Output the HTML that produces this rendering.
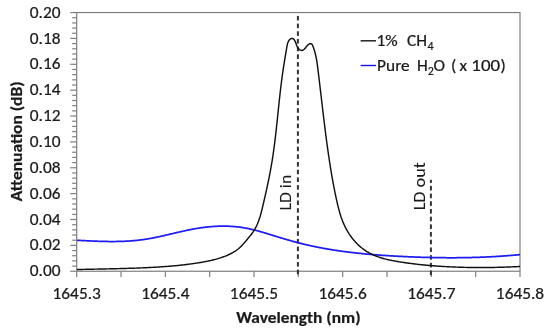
<!DOCTYPE html>
<html><head><meta charset="utf-8"><style>
html,body{margin:0;padding:0;background:#fff;}
svg{display:block;}
text{font-family:Carlito,"Liberation Sans",sans-serif;font-size:16.9px;fill:#1a1a1a;stroke:#1a1a1a;stroke-width:0.22px;}
</style></head><body>
<svg width="550" height="331" viewBox="0 0 550 331">
<rect width="550" height="331" fill="#fff"/>
<g stroke="#7f7f7f" stroke-width="1.2" fill="none">
<rect x="76.7" y="12.56" width="443.30" height="258.69"/>
<line x1="70.2" y1="271.25" x2="76.7" y2="271.25"/>
<line x1="72.2" y1="266.08" x2="76.7" y2="266.08"/>
<line x1="72.2" y1="260.90" x2="76.7" y2="260.90"/>
<line x1="72.2" y1="255.73" x2="76.7" y2="255.73"/>
<line x1="72.2" y1="250.55" x2="76.7" y2="250.55"/>
<line x1="70.2" y1="245.38" x2="76.7" y2="245.38"/>
<line x1="72.2" y1="240.21" x2="76.7" y2="240.21"/>
<line x1="72.2" y1="235.03" x2="76.7" y2="235.03"/>
<line x1="72.2" y1="229.86" x2="76.7" y2="229.86"/>
<line x1="72.2" y1="224.69" x2="76.7" y2="224.69"/>
<line x1="70.2" y1="219.51" x2="76.7" y2="219.51"/>
<line x1="72.2" y1="214.34" x2="76.7" y2="214.34"/>
<line x1="72.2" y1="209.16" x2="76.7" y2="209.16"/>
<line x1="72.2" y1="203.99" x2="76.7" y2="203.99"/>
<line x1="72.2" y1="198.82" x2="76.7" y2="198.82"/>
<line x1="70.2" y1="193.64" x2="76.7" y2="193.64"/>
<line x1="72.2" y1="188.47" x2="76.7" y2="188.47"/>
<line x1="72.2" y1="183.30" x2="76.7" y2="183.30"/>
<line x1="72.2" y1="178.12" x2="76.7" y2="178.12"/>
<line x1="72.2" y1="172.95" x2="76.7" y2="172.95"/>
<line x1="70.2" y1="167.77" x2="76.7" y2="167.77"/>
<line x1="72.2" y1="162.60" x2="76.7" y2="162.60"/>
<line x1="72.2" y1="157.43" x2="76.7" y2="157.43"/>
<line x1="72.2" y1="152.25" x2="76.7" y2="152.25"/>
<line x1="72.2" y1="147.08" x2="76.7" y2="147.08"/>
<line x1="70.2" y1="141.91" x2="76.7" y2="141.91"/>
<line x1="72.2" y1="136.73" x2="76.7" y2="136.73"/>
<line x1="72.2" y1="131.56" x2="76.7" y2="131.56"/>
<line x1="72.2" y1="126.38" x2="76.7" y2="126.38"/>
<line x1="72.2" y1="121.21" x2="76.7" y2="121.21"/>
<line x1="70.2" y1="116.04" x2="76.7" y2="116.04"/>
<line x1="72.2" y1="110.86" x2="76.7" y2="110.86"/>
<line x1="72.2" y1="105.69" x2="76.7" y2="105.69"/>
<line x1="72.2" y1="100.51" x2="76.7" y2="100.51"/>
<line x1="72.2" y1="95.34" x2="76.7" y2="95.34"/>
<line x1="70.2" y1="90.17" x2="76.7" y2="90.17"/>
<line x1="72.2" y1="84.99" x2="76.7" y2="84.99"/>
<line x1="72.2" y1="79.82" x2="76.7" y2="79.82"/>
<line x1="72.2" y1="74.65" x2="76.7" y2="74.65"/>
<line x1="72.2" y1="69.47" x2="76.7" y2="69.47"/>
<line x1="70.2" y1="64.30" x2="76.7" y2="64.30"/>
<line x1="72.2" y1="59.12" x2="76.7" y2="59.12"/>
<line x1="72.2" y1="53.95" x2="76.7" y2="53.95"/>
<line x1="72.2" y1="48.78" x2="76.7" y2="48.78"/>
<line x1="72.2" y1="43.60" x2="76.7" y2="43.60"/>
<line x1="70.2" y1="38.43" x2="76.7" y2="38.43"/>
<line x1="72.2" y1="33.26" x2="76.7" y2="33.26"/>
<line x1="72.2" y1="28.08" x2="76.7" y2="28.08"/>
<line x1="72.2" y1="22.91" x2="76.7" y2="22.91"/>
<line x1="72.2" y1="17.73" x2="76.7" y2="17.73"/>
<line x1="70.2" y1="12.56" x2="76.7" y2="12.56"/>
<line x1="76.70" y1="271.25" x2="76.70" y2="277"/>
<line x1="121.03" y1="271.25" x2="121.03" y2="277"/>
<line x1="165.36" y1="271.25" x2="165.36" y2="277"/>
<line x1="209.69" y1="271.25" x2="209.69" y2="277"/>
<line x1="254.02" y1="271.25" x2="254.02" y2="277"/>
<line x1="298.35" y1="271.25" x2="298.35" y2="277"/>
<line x1="342.68" y1="271.25" x2="342.68" y2="277"/>
<line x1="387.01" y1="271.25" x2="387.01" y2="277"/>
<line x1="431.34" y1="271.25" x2="431.34" y2="277"/>
<line x1="475.67" y1="271.25" x2="475.67" y2="277"/>
<line x1="520.00" y1="271.25" x2="520.00" y2="277"/>
</g>
<g fill="#333">
<rect x="296.90" y="15.90" width="2" height="4.60"/><rect x="296.90" y="23.59" width="2" height="4.60"/><rect x="296.90" y="31.28" width="2" height="4.60"/><rect x="296.90" y="38.97" width="2" height="4.60"/><rect x="296.90" y="46.66" width="2" height="4.60"/><rect x="296.90" y="54.35" width="2" height="4.60"/><rect x="296.90" y="62.04" width="2" height="4.60"/><rect x="296.90" y="69.73" width="2" height="4.60"/><rect x="296.90" y="77.42" width="2" height="4.60"/><rect x="296.90" y="85.11" width="2" height="4.60"/><rect x="296.90" y="92.80" width="2" height="4.60"/><rect x="296.90" y="100.49" width="2" height="4.60"/><rect x="296.90" y="108.18" width="2" height="4.60"/><rect x="296.90" y="115.87" width="2" height="4.60"/><rect x="296.90" y="123.56" width="2" height="4.60"/><rect x="296.90" y="131.25" width="2" height="4.60"/><rect x="296.90" y="138.94" width="2" height="4.60"/><rect x="296.90" y="146.63" width="2" height="4.60"/><rect x="296.90" y="154.32" width="2" height="4.60"/><rect x="296.90" y="162.01" width="2" height="4.60"/><rect x="296.90" y="169.70" width="2" height="4.60"/><rect x="296.90" y="177.39" width="2" height="4.60"/><rect x="296.90" y="185.08" width="2" height="4.60"/><rect x="296.90" y="192.77" width="2" height="4.60"/><rect x="296.90" y="200.46" width="2" height="4.60"/><rect x="296.90" y="208.15" width="2" height="4.60"/><rect x="296.90" y="215.84" width="2" height="4.60"/><rect x="296.90" y="223.53" width="2" height="4.60"/><rect x="296.90" y="231.22" width="2" height="4.60"/><rect x="296.90" y="238.91" width="2" height="4.60"/><rect x="296.90" y="246.60" width="2" height="4.60"/><rect x="296.90" y="254.29" width="2" height="4.60"/><rect x="296.90" y="261.98" width="2" height="4.60"/><rect x="296.90" y="269.67" width="2" height="4.60"/><rect x="429.90" y="179.8" width="2" height="3.1"/><rect x="429.90" y="185.90" width="2" height="4.60"/><rect x="429.90" y="193.59" width="2" height="4.60"/><rect x="429.90" y="201.28" width="2" height="4.60"/><rect x="429.90" y="208.97" width="2" height="4.60"/><rect x="429.90" y="216.66" width="2" height="4.60"/><rect x="429.90" y="224.35" width="2" height="4.60"/><rect x="429.90" y="232.04" width="2" height="4.60"/><rect x="429.90" y="239.73" width="2" height="4.60"/><rect x="429.90" y="247.42" width="2" height="4.60"/><rect x="429.90" y="255.11" width="2" height="4.60"/><rect x="429.90" y="262.80" width="2" height="4.60"/><rect x="429.90" y="270.49" width="2" height="4.60"/>
</g>
<path d="M76.98,240.29 L77.48,240.32 L77.97,240.34 L78.47,240.37 L78.97,240.39 L79.47,240.42 L79.97,240.45 L80.46,240.47 L80.96,240.50 L81.46,240.52 L81.96,240.55 L82.46,240.57 L82.96,240.60 L83.45,240.62 L83.95,240.65 L84.45,240.67 L84.95,240.70 L85.45,240.72 L85.95,240.75 L86.45,240.77 L86.95,240.79 L87.44,240.82 L87.94,240.84 L88.44,240.87 L88.94,240.89 L89.44,240.91 L89.94,240.93 L90.44,240.96 L90.94,240.98 L91.44,241.00 L91.93,241.02 L92.43,241.04 L92.93,241.06 L93.43,241.09 L93.93,241.11 L94.43,241.13 L94.93,241.15 L95.43,241.16 L95.93,241.18 L96.43,241.20 L96.93,241.22 L97.43,241.24 L97.93,241.25 L98.42,241.27 L98.92,241.29 L99.42,241.30 L99.92,241.32 L100.42,241.33 L100.92,241.35 L101.42,241.36 L101.92,241.38 L102.42,241.39 L102.92,241.40 L103.42,241.41 L103.92,241.42 L104.41,241.43 L104.91,241.44 L105.41,241.45 L105.91,241.46 L106.41,241.47 L106.91,241.48 L107.41,241.49 L107.91,241.49 L108.41,241.50 L108.90,241.50 L109.40,241.51 L109.90,241.51 L110.40,241.51 L110.90,241.52 L111.40,241.52 L111.90,241.52 L112.40,241.52 L112.89,241.52 L113.39,241.52 L113.89,241.51 L114.39,241.51 L114.89,241.51 L115.39,241.50 L115.88,241.50 L116.38,241.49 L116.88,241.48 L117.38,241.48 L117.88,241.47 L118.37,241.46 L118.87,241.45 L119.37,241.44 L119.87,241.42 L120.36,241.41 L120.86,241.40 L121.36,241.38 L121.86,241.36 L122.35,241.35 L122.85,241.33 L123.35,241.31 L123.84,241.29 L124.34,241.27 L124.84,241.25 L125.33,241.22 L125.83,241.20 L126.33,241.17 L126.82,241.15 L127.32,241.12 L127.82,241.09 L128.31,241.06 L128.81,241.03 L129.30,241.00 L129.80,240.97 L130.30,240.93 L130.79,240.90 L131.29,240.86 L131.78,240.82 L132.28,240.78 L132.77,240.74 L133.27,240.70 L133.76,240.66 L134.26,240.62 L134.75,240.57 L135.25,240.52 L135.74,240.48 L136.24,240.43 L136.73,240.38 L137.22,240.33 L137.72,240.27 L138.21,240.22 L138.70,240.16 L139.20,240.11 L139.69,240.05 L140.18,239.99 L140.68,239.93 L141.17,239.87 L141.66,239.80 L142.16,239.74 L142.65,239.67 L143.14,239.61 L143.63,239.54 L144.12,239.47 L144.62,239.39 L145.11,239.32 L145.60,239.24 L146.09,239.17 L146.58,239.09 L147.07,239.01 L147.56,238.93 L148.05,238.85 L148.55,238.76 L149.04,238.68 L149.53,238.59 L150.02,238.51 L150.51,238.42 L151.00,238.33 L151.49,238.24 L151.98,238.15 L152.47,238.05 L152.95,237.96 L153.44,237.86 L153.93,237.77 L154.42,237.67 L154.91,237.57 L155.40,237.47 L155.89,237.37 L156.38,237.27 L156.87,237.17 L157.36,237.07 L157.84,236.96 L158.33,236.86 L158.82,236.76 L159.31,236.65 L159.80,236.54 L160.29,236.44 L160.77,236.33 L161.26,236.22 L161.75,236.11 L162.24,236.00 L162.73,235.89 L163.21,235.78 L163.70,235.67 L164.19,235.56 L164.68,235.45 L165.16,235.33 L165.65,235.22 L166.14,235.11 L166.63,235.00 L167.11,234.88 L167.60,234.77 L168.09,234.65 L168.58,234.54 L169.06,234.42 L169.55,234.31 L170.04,234.19 L170.53,234.08 L171.01,233.96 L171.50,233.85 L171.99,233.73 L172.47,233.62 L172.96,233.50 L173.45,233.39 L173.94,233.27 L174.42,233.16 L174.91,233.04 L175.40,232.93 L175.89,232.81 L176.37,232.70 L176.86,232.58 L177.35,232.47 L177.84,232.36 L178.33,232.24 L178.81,232.13 L179.30,232.02 L179.79,231.91 L180.28,231.79 L180.76,231.68 L181.25,231.57 L181.74,231.46 L182.23,231.35 L182.72,231.24 L183.20,231.13 L183.69,231.02 L184.18,230.92 L184.67,230.81 L185.16,230.70 L185.65,230.60 L186.14,230.49 L186.63,230.39 L187.11,230.28 L187.60,230.18 L188.09,230.08 L188.58,229.98 L189.07,229.88 L189.56,229.78 L190.05,229.68 L190.54,229.59 L191.03,229.49 L191.52,229.39 L192.01,229.30 L192.50,229.21 L192.99,229.12 L193.48,229.02 L193.97,228.94 L194.46,228.85 L194.95,228.76 L195.44,228.67 L195.94,228.59 L196.43,228.51 L196.92,228.42 L197.41,228.34 L197.90,228.26 L198.39,228.18 L198.89,228.11 L199.38,228.03 L199.87,227.96 L200.36,227.88 L200.85,227.81 L201.35,227.74 L201.84,227.67 L202.33,227.61 L202.83,227.54 L203.32,227.48 L203.81,227.41 L204.30,227.35 L204.80,227.29 L205.29,227.23 L205.78,227.17 L206.28,227.12 L206.77,227.06 L207.26,227.01 L207.76,226.96 L208.25,226.91 L208.74,226.86 L209.24,226.81 L209.73,226.76 L210.23,226.72 L210.72,226.68 L211.21,226.63 L211.71,226.59 L212.20,226.56 L212.70,226.52 L213.19,226.48 L213.68,226.45 L214.18,226.42 L214.67,226.39 L215.16,226.36 L215.66,226.33 L216.15,226.31 L216.65,226.28 L217.14,226.26 L217.63,226.24 L218.13,226.22 L218.62,226.20 L219.12,226.19 L219.61,226.17 L220.10,226.16 L220.60,226.15 L221.09,226.14 L221.58,226.13 L222.08,226.13 L222.57,226.13 L223.06,226.12 L223.56,226.12 L224.05,226.13 L224.54,226.13 L225.04,226.13 L225.53,226.14 L226.02,226.15 L226.51,226.16 L227.01,226.17 L227.50,226.19 L227.99,226.20 L228.48,226.22 L228.98,226.24 L229.47,226.26 L229.96,226.29 L230.45,226.31 L230.94,226.34 L231.44,226.37 L231.93,226.40 L232.42,226.43 L232.91,226.47 L233.40,226.51 L233.89,226.54 L234.38,226.58 L234.87,226.63 L235.36,226.67 L235.85,226.72 L236.34,226.77 L236.83,226.82 L237.32,226.87 L237.81,226.93 L238.30,226.98 L238.79,227.04 L239.28,227.10 L239.77,227.17 L240.26,227.23 L240.75,227.30 L241.24,227.37 L241.72,227.44 L242.21,227.51 L242.70,227.59 L243.19,227.67 L243.67,227.75 L244.16,227.83 L244.65,227.91 L245.13,228.00 L245.62,228.09 L246.11,228.18 L246.59,228.27 L247.08,228.37 L247.56,228.46 L248.05,228.56 L248.53,228.66 L249.02,228.76 L249.50,228.87 L249.99,228.97 L250.47,229.08 L250.95,229.19 L251.44,229.30 L251.92,229.41 L252.40,229.53 L252.89,229.64 L253.37,229.76 L253.85,229.88 L254.34,230.00 L254.82,230.12 L255.30,230.25 L255.78,230.37 L256.26,230.50 L256.75,230.63 L257.23,230.75 L257.71,230.88 L258.19,231.01 L258.67,231.15 L259.15,231.28 L259.63,231.41 L260.12,231.55 L260.60,231.69 L261.08,231.82 L261.56,231.96 L262.04,232.10 L262.52,232.24 L263.00,232.38 L263.48,232.52 L263.96,232.66 L264.44,232.81 L264.92,232.95 L265.40,233.09 L265.88,233.24 L266.36,233.38 L266.84,233.53 L267.32,233.67 L267.80,233.82 L268.28,233.97 L268.76,234.11 L269.23,234.26 L269.71,234.41 L270.19,234.56 L270.67,234.71 L271.15,234.85 L271.63,235.00 L272.11,235.15 L272.59,235.30 L273.07,235.45 L273.55,235.60 L274.03,235.74 L274.50,235.89 L274.98,236.04 L275.46,236.19 L275.94,236.34 L276.42,236.48 L276.90,236.63 L277.38,236.78 L277.86,236.93 L278.34,237.07 L278.82,237.22 L279.29,237.37 L279.77,237.51 L280.25,237.66 L280.73,237.80 L281.21,237.95 L281.69,238.09 L282.17,238.24 L282.65,238.38 L283.13,238.52 L283.61,238.67 L284.09,238.81 L284.57,238.95 L285.05,239.09 L285.53,239.23 L286.01,239.38 L286.49,239.52 L286.97,239.66 L287.45,239.80 L287.93,239.93 L288.41,240.07 L288.89,240.21 L289.37,240.35 L289.85,240.49 L290.33,240.62 L290.81,240.76 L291.29,240.89 L291.77,241.03 L292.25,241.16 L292.73,241.29 L293.21,241.43 L293.69,241.56 L294.17,241.69 L294.66,241.82 L295.14,241.95 L295.62,242.08 L296.10,242.21 L296.58,242.34 L297.07,242.47 L297.55,242.59 L298.03,242.72 L298.51,242.84 L299.00,242.97 L299.48,243.09 L299.96,243.21 L300.44,243.34 L300.93,243.46 L301.41,243.58 L301.90,243.70 L302.38,243.82 L302.86,243.93 L303.35,244.05 L303.83,244.17 L304.32,244.29 L304.80,244.40 L305.28,244.52 L305.77,244.63 L306.25,244.74 L306.74,244.86 L307.22,244.97 L307.71,245.08 L308.20,245.19 L308.68,245.30 L309.17,245.41 L309.65,245.52 L310.14,245.62 L310.63,245.73 L311.11,245.84 L311.60,245.94 L312.08,246.05 L312.57,246.15 L313.06,246.25 L313.54,246.36 L314.03,246.46 L314.52,246.56 L315.01,246.66 L315.49,246.76 L315.98,246.86 L316.47,246.96 L316.96,247.06 L317.44,247.16 L317.93,247.25 L318.42,247.35 L318.91,247.44 L319.40,247.54 L319.89,247.63 L320.38,247.73 L320.86,247.82 L321.35,247.91 L321.84,248.00 L322.33,248.10 L322.82,248.19 L323.31,248.28 L323.80,248.37 L324.29,248.45 L324.78,248.54 L325.27,248.63 L325.76,248.72 L326.25,248.80 L326.74,248.89 L327.23,248.97 L327.72,249.06 L328.21,249.14 L328.70,249.22 L329.19,249.31 L329.68,249.39 L330.17,249.47 L330.66,249.55 L331.15,249.63 L331.65,249.71 L332.14,249.79 L332.63,249.87 L333.12,249.95 L333.61,250.02 L334.10,250.10 L334.59,250.18 L335.09,250.25 L335.58,250.33 L336.07,250.40 L336.56,250.48 L337.05,250.55 L337.55,250.62 L338.04,250.69 L338.53,250.77 L339.02,250.84 L339.52,250.91 L340.01,250.98 L340.50,251.05 L341.00,251.12 L341.49,251.19 L341.98,251.25 L342.48,251.32 L342.97,251.39 L343.46,251.46 L343.96,251.52 L344.45,251.59 L344.94,251.65 L345.44,251.72 L345.93,251.78 L346.42,251.84 L346.92,251.91 L347.41,251.97 L347.91,252.03 L348.40,252.09 L348.89,252.16 L349.39,252.22 L349.88,252.28 L350.38,252.34 L350.87,252.40 L351.37,252.45 L351.86,252.51 L352.36,252.57 L352.85,252.63 L353.35,252.68 L353.84,252.74 L354.34,252.80 L354.83,252.85 L355.33,252.91 L355.82,252.96 L356.32,253.02 L356.81,253.07 L357.31,253.12 L357.80,253.18 L358.30,253.23 L358.79,253.28 L359.29,253.33 L359.78,253.38 L360.28,253.43 L360.78,253.48 L361.27,253.53 L361.77,253.58 L362.26,253.63 L362.76,253.68 L363.26,253.73 L363.75,253.78 L364.25,253.83 L364.74,253.87 L365.24,253.92 L365.74,253.97 L366.23,254.01 L366.73,254.06 L367.23,254.10 L367.72,254.15 L368.22,254.19 L368.72,254.23 L369.21,254.28 L369.71,254.32 L370.21,254.36 L370.70,254.41 L371.20,254.45 L371.70,254.49 L372.19,254.53 L372.69,254.57 L373.19,254.61 L373.68,254.65 L374.18,254.69 L374.68,254.73 L375.18,254.77 L375.67,254.81 L376.17,254.85 L376.67,254.89 L377.16,254.93 L377.66,254.97 L378.16,255.00 L378.66,255.04 L379.15,255.08 L379.65,255.11 L380.15,255.15 L380.65,255.18 L381.14,255.22 L381.64,255.26 L382.14,255.29 L382.64,255.32 L383.13,255.36 L383.63,255.39 L384.13,255.43 L384.63,255.46 L385.12,255.49 L385.62,255.53 L386.12,255.56 L386.62,255.59 L387.12,255.62 L387.61,255.65 L388.11,255.69 L388.61,255.72 L389.11,255.75 L389.60,255.78 L390.10,255.81 L390.60,255.84 L391.10,255.87 L391.60,255.90 L392.09,255.93 L392.59,255.96 L393.09,255.98 L393.59,256.01 L394.09,256.04 L394.58,256.07 L395.08,256.10 L395.58,256.13 L396.08,256.15 L396.58,256.18 L397.07,256.21 L397.57,256.23 L398.07,256.26 L398.57,256.29 L399.07,256.31 L399.56,256.34 L400.06,256.36 L400.56,256.39 L401.06,256.42 L401.55,256.44 L402.05,256.47 L402.55,256.49 L403.05,256.51 L403.55,256.54 L404.04,256.56 L404.54,256.59 L405.04,256.61 L405.54,256.63 L406.04,256.66 L406.53,256.68 L407.03,256.70 L407.53,256.72 L408.03,256.75 L408.53,256.77 L409.02,256.79 L409.52,256.81 L410.02,256.83 L410.52,256.86 L411.02,256.88 L411.51,256.90 L412.01,256.92 L412.51,256.94 L413.01,256.96 L413.50,256.98 L414.00,257.00 L414.50,257.02 L415.00,257.04 L415.50,257.06 L415.99,257.07 L416.49,257.09 L416.99,257.11 L417.49,257.13 L417.99,257.15 L418.48,257.16 L418.98,257.18 L419.48,257.20 L419.98,257.22 L420.48,257.23 L420.97,257.25 L421.47,257.26 L421.97,257.28 L422.47,257.30 L422.96,257.31 L423.46,257.33 L423.96,257.34 L424.46,257.36 L424.96,257.37 L425.45,257.38 L425.95,257.40 L426.45,257.41 L426.95,257.43 L427.44,257.44 L427.94,257.45 L428.44,257.46 L428.94,257.48 L429.44,257.49 L429.93,257.50 L430.43,257.51 L430.93,257.52 L431.43,257.54 L431.93,257.55 L432.42,257.56 L432.92,257.57 L433.42,257.58 L433.92,257.59 L434.41,257.60 L434.91,257.61 L435.41,257.62 L435.91,257.62 L436.41,257.63 L436.90,257.64 L437.40,257.65 L437.90,257.66 L438.40,257.66 L438.89,257.67 L439.39,257.68 L439.89,257.68 L440.39,257.69 L440.89,257.70 L441.38,257.70 L441.88,257.71 L442.38,257.71 L442.88,257.72 L443.37,257.72 L443.87,257.73 L444.37,257.73 L444.87,257.74 L445.37,257.74 L445.86,257.74 L446.36,257.75 L446.86,257.75 L447.36,257.75 L447.85,257.75 L448.35,257.76 L448.85,257.76 L449.35,257.76 L449.85,257.76 L450.34,257.76 L450.84,257.76 L451.34,257.76 L451.84,257.76 L452.33,257.76 L452.83,257.76 L453.33,257.76 L453.83,257.76 L454.33,257.76 L454.82,257.75 L455.32,257.75 L455.82,257.75 L456.32,257.75 L456.81,257.74 L457.31,257.74 L457.81,257.74 L458.31,257.73 L458.80,257.73 L459.30,257.72 L459.80,257.72 L460.30,257.71 L460.80,257.71 L461.29,257.70 L461.79,257.70 L462.29,257.69 L462.79,257.68 L463.28,257.68 L463.78,257.67 L464.28,257.66 L464.78,257.65 L465.28,257.64 L465.77,257.64 L466.27,257.63 L466.77,257.62 L467.27,257.61 L467.76,257.60 L468.26,257.59 L468.76,257.58 L469.26,257.57 L469.75,257.55 L470.25,257.54 L470.75,257.53 L471.25,257.52 L471.75,257.51 L472.24,257.49 L472.74,257.48 L473.24,257.47 L473.74,257.45 L474.23,257.44 L474.73,257.42 L475.23,257.41 L475.73,257.39 L476.23,257.38 L476.72,257.36 L477.22,257.35 L477.72,257.33 L478.22,257.31 L478.71,257.30 L479.21,257.28 L479.71,257.26 L480.21,257.24 L480.70,257.23 L481.20,257.21 L481.70,257.19 L482.20,257.17 L482.70,257.15 L483.19,257.13 L483.69,257.11 L484.19,257.09 L484.69,257.06 L485.18,257.04 L485.68,257.02 L486.18,257.00 L486.68,256.98 L487.17,256.95 L487.67,256.93 L488.17,256.91 L488.67,256.88 L489.17,256.86 L489.66,256.83 L490.16,256.81 L490.66,256.78 L491.16,256.76 L491.65,256.73 L492.15,256.70 L492.65,256.68 L493.15,256.65 L493.64,256.62 L494.14,256.59 L494.64,256.57 L495.14,256.54 L495.63,256.51 L496.13,256.48 L496.63,256.45 L497.13,256.42 L497.63,256.39 L498.12,256.36 L498.62,256.32 L499.12,256.29 L499.62,256.26 L500.11,256.23 L500.61,256.20 L501.11,256.16 L501.61,256.13 L502.10,256.09 L502.60,256.06 L503.10,256.03 L503.60,255.99 L504.10,255.96 L504.59,255.92 L505.09,255.88 L505.59,255.85 L506.09,255.81 L506.58,255.77 L507.08,255.73 L507.58,255.70 L508.08,255.66 L508.57,255.62 L509.07,255.58 L509.57,255.54 L510.07,255.50 L510.57,255.46 L511.06,255.42 L511.56,255.38 L512.06,255.33 L512.56,255.29 L513.05,255.25 L513.55,255.21 L514.05,255.16 L514.55,255.12 L515.04,255.08 L515.54,255.03 L516.04,254.99 L516.54,254.94 L517.04,254.90 L517.53,254.85 L518.03,254.80 L518.53,254.76 L519.03,254.71 L519.52,254.66 L520.02,254.61" stroke="#1e1ef2" stroke-width="1.75" fill="none" stroke-linejoin="round"/>
<path d="M77.00,269.54 L77.88,269.52 L78.76,269.49 L79.64,269.47 L80.52,269.45 L81.40,269.43 L82.28,269.41 L83.16,269.39 L84.04,269.37 L84.92,269.35 L85.80,269.33 L86.69,269.31 L87.57,269.30 L88.45,269.28 L89.33,269.26 L90.21,269.24 L91.09,269.22 L91.97,269.20 L92.85,269.19 L93.73,269.17 L94.61,269.15 L95.49,269.13 L96.37,269.11 L97.25,269.10 L98.13,269.08 L99.01,269.06 L99.89,269.04 L100.77,269.02 L101.65,269.01 L102.52,268.99 L103.40,268.97 L104.28,268.95 L105.16,268.93 L106.04,268.91 L106.92,268.89 L107.80,268.88 L108.68,268.86 L109.56,268.84 L110.44,268.82 L111.32,268.80 L112.20,268.78 L113.08,268.76 L113.96,268.74 L114.84,268.72 L115.72,268.70 L116.60,268.67 L117.48,268.65 L118.35,268.63 L119.23,268.61 L120.11,268.59 L120.99,268.56 L121.87,268.54 L122.75,268.51 L123.63,268.49 L124.51,268.47 L125.39,268.44 L126.27,268.41 L127.15,268.39 L128.03,268.36 L128.91,268.33 L129.79,268.31 L130.67,268.28 L131.55,268.25 L132.42,268.22 L133.30,268.19 L134.18,268.16 L135.06,268.13 L135.94,268.10 L136.82,268.06 L137.70,268.03 L138.58,268.00 L139.46,267.96 L140.34,267.93 L141.22,267.89 L142.10,267.86 L142.98,267.82 L143.86,267.78 L144.74,267.74 L145.62,267.70 L146.50,267.66 L147.38,267.62 L148.26,267.58 L149.14,267.54 L150.02,267.49 L150.90,267.45 L151.78,267.40 L152.66,267.35 L153.54,267.31 L154.42,267.26 L155.30,267.21 L156.18,267.16 L157.06,267.10 L157.94,267.05 L158.82,267.00 L159.70,266.94 L160.58,266.88 L161.46,266.82 L162.34,266.76 L163.22,266.70 L164.10,266.64 L164.97,266.58 L165.85,266.51 L166.73,266.45 L167.61,266.38 L168.49,266.31 L169.37,266.24 L170.24,266.16 L171.12,266.09 L172.00,266.01 L172.88,265.94 L173.75,265.86 L174.63,265.78 L175.51,265.69 L176.38,265.61 L177.26,265.52 L178.14,265.44 L179.01,265.35 L179.89,265.25 L180.76,265.16 L181.64,265.07 L182.51,264.97 L183.39,264.87 L184.26,264.77 L185.13,264.66 L186.01,264.56 L186.88,264.45 L187.75,264.34 L188.62,264.23 L189.50,264.12 L190.37,264.00 L191.24,263.88 L192.11,263.76 L192.98,263.64 L193.85,263.51 L194.72,263.39 L195.59,263.26 L196.46,263.12 L197.32,262.99 L198.19,262.85 L199.06,262.71 L199.93,262.57 L200.79,262.43 L201.66,262.28 L202.52,262.13 L203.39,261.98 L204.25,261.82 L205.12,261.66 L205.98,261.49 L206.84,261.33 L207.70,261.15 L208.56,260.97 L209.42,260.79 L210.28,260.60 L211.14,260.41 L211.99,260.21 L212.85,260.01 L213.71,259.79 L214.56,259.58 L215.41,259.35 L216.26,259.12 L217.11,258.88 L217.96,258.64 L218.81,258.39 L219.66,258.12 L220.50,257.86 L221.34,257.58 L222.18,257.29 L223.02,257.00 L223.86,256.69 L224.69,256.38 L225.52,256.06 L226.34,255.72 L227.16,255.38 L227.97,255.02 L228.78,254.65 L229.58,254.27 L230.37,253.88 L231.15,253.48 L231.93,253.06 L232.70,252.64 L233.46,252.19 L234.21,251.74 L234.95,251.27 L235.68,250.78 L236.39,250.29 L237.10,249.77 L237.79,249.25 L238.48,248.70 L239.14,248.14 L239.80,247.57 L240.44,246.97 L241.07,246.37 L241.69,245.74 L242.29,245.11 L242.89,244.46 L243.48,243.81 L244.06,243.14 L244.63,242.47 L245.21,241.80 L245.77,241.12 L246.34,240.43 L246.91,239.75 L247.47,239.06 L248.04,238.38 L248.61,237.69 L249.17,237.00 L249.73,236.32 L250.28,235.62 L250.83,234.93 L251.37,234.23 L251.90,233.52 L252.42,232.81 L252.93,232.10 L253.42,231.37 L253.90,230.64 L254.37,229.90 L254.81,229.15 L255.25,228.40 L255.66,227.63 L256.07,226.86 L256.45,226.08 L256.83,225.30 L257.19,224.50 L257.53,223.70 L257.87,222.90 L258.19,222.09 L258.51,221.27 L258.81,220.45 L259.10,219.62 L259.38,218.79 L259.65,217.95 L259.92,217.11 L260.18,216.27 L260.42,215.42 L260.67,214.57 L260.90,213.71 L261.13,212.86 L261.36,212.00 L261.58,211.14 L261.79,210.27 L262.01,209.41 L262.22,208.55 L262.42,207.68 L262.63,206.81 L262.83,205.95 L263.03,205.08 L263.23,204.22 L263.43,203.35 L263.64,202.49 L263.84,201.62 L264.03,200.76 L264.23,199.90 L264.43,199.04 L264.63,198.17 L264.83,197.31 L265.02,196.45 L265.22,195.59 L265.41,194.73 L265.61,193.87 L265.80,193.01 L265.99,192.15 L266.18,191.29 L266.37,190.43 L266.56,189.57 L266.75,188.71 L266.94,187.85 L267.13,186.99 L267.31,186.13 L267.50,185.27 L267.68,184.41 L267.86,183.55 L268.04,182.69 L268.22,181.83 L268.40,180.97 L268.58,180.11 L268.75,179.25 L268.93,178.39 L269.10,177.53 L269.27,176.67 L269.44,175.81 L269.61,174.95 L269.78,174.09 L269.94,173.23 L270.10,172.37 L270.27,171.51 L270.43,170.64 L270.59,169.78 L270.74,168.92 L270.90,168.06 L271.05,167.19 L271.20,166.33 L271.35,165.46 L271.50,164.60 L271.65,163.73 L271.79,162.87 L271.94,162.00 L272.08,161.13 L272.22,160.27 L272.35,159.40 L272.49,158.53 L272.62,157.66 L272.75,156.79 L272.89,155.92 L273.01,155.05 L273.14,154.18 L273.27,153.31 L273.39,152.44 L273.52,151.57 L273.64,150.70 L273.76,149.82 L273.88,148.95 L274.00,148.08 L274.11,147.20 L274.23,146.33 L274.34,145.46 L274.45,144.58 L274.57,143.71 L274.68,142.83 L274.79,141.96 L274.90,141.08 L275.00,140.21 L275.11,139.33 L275.21,138.46 L275.32,137.58 L275.42,136.71 L275.53,135.83 L275.63,134.95 L275.73,134.08 L275.83,133.20 L275.93,132.32 L276.03,131.45 L276.13,130.57 L276.22,129.69 L276.32,128.81 L276.42,127.94 L276.51,127.06 L276.61,126.18 L276.70,125.30 L276.80,124.42 L276.89,123.55 L276.99,122.67 L277.08,121.79 L277.17,120.91 L277.26,120.03 L277.36,119.16 L277.45,118.28 L277.54,117.40 L277.63,116.52 L277.72,115.64 L277.81,114.77 L277.90,113.89 L278.00,113.01 L278.09,112.13 L278.18,111.26 L278.27,110.38 L278.36,109.50 L278.45,108.62 L278.54,107.75 L278.64,106.87 L278.73,105.99 L278.82,105.11 L278.91,104.24 L279.00,103.36 L279.10,102.49 L279.19,101.61 L279.28,100.73 L279.38,99.86 L279.47,98.98 L279.57,98.11 L279.66,97.23 L279.76,96.36 L279.85,95.48 L279.95,94.61 L280.05,93.73 L280.15,92.86 L280.25,91.99 L280.35,91.11 L280.45,90.24 L280.55,89.37 L280.65,88.50 L280.75,87.63 L280.86,86.75 L280.96,85.88 L281.07,85.01 L281.18,84.14 L281.28,83.27 L281.39,82.40 L281.50,81.53 L281.61,80.67 L281.72,79.80 L281.84,78.93 L281.95,78.06 L282.07,77.20 L282.19,76.33 L282.30,75.46 L282.42,74.60 L282.54,73.73 L282.67,72.87 L282.79,72.00 L282.91,71.14 L283.04,70.28 L283.17,69.42 L283.30,68.55 L283.43,67.69 L283.56,66.83 L283.70,65.97 L283.83,65.11 L283.97,64.25 L284.11,63.39 L284.25,62.53 L284.39,61.66 L284.53,60.80 L284.67,59.93 L284.82,59.06 L284.96,58.19 L285.11,57.32 L285.26,56.44 L285.40,55.56 L285.55,54.68 L285.70,53.80 L285.85,52.91 L286.00,52.01 L286.15,51.12 L286.31,50.21 L286.46,49.31 L286.61,48.40 L286.76,47.48 L286.92,46.56 L287.09,45.64 L287.27,44.74 L287.49,43.86 L287.74,43.01 L288.03,42.20 L288.37,41.43 L288.77,40.71 L289.24,40.06 L289.78,39.47 L290.40,38.97 L291.07,38.59 L291.78,38.40 L292.49,38.45 L293.19,38.78 L293.83,39.36 L294.39,40.07 L294.86,40.84 L295.27,41.65 L295.63,42.49 L295.95,43.35 L296.27,44.22 L296.58,45.09 L296.92,45.95 L297.30,46.78 L297.75,47.57 L298.27,48.32 L298.88,49.01 L299.57,49.61 L300.31,50.07 L301.07,50.37 L301.82,50.45 L302.54,50.32 L303.23,49.98 L303.88,49.50 L304.50,48.90 L305.09,48.23 L305.68,47.49 L306.27,46.74 L306.90,45.99 L307.57,45.28 L308.31,44.63 L309.11,44.10 L309.91,43.73 L310.65,43.60 L311.28,43.76 L311.81,44.18 L312.26,44.79 L312.65,45.54 L312.99,46.37 L313.31,47.21 L313.62,48.06 L313.91,48.91 L314.19,49.77 L314.45,50.62 L314.70,51.48 L314.94,52.33 L315.17,53.19 L315.38,54.05 L315.59,54.91 L315.78,55.77 L315.97,56.64 L316.14,57.50 L316.31,58.37 L316.47,59.23 L316.62,60.10 L316.76,60.96 L316.90,61.83 L317.04,62.70 L317.16,63.57 L317.29,64.44 L317.41,65.31 L317.52,66.18 L317.64,67.05 L317.75,67.92 L317.86,68.79 L317.96,69.66 L318.07,70.54 L318.18,71.41 L318.29,72.28 L318.39,73.15 L318.50,74.02 L318.60,74.90 L318.71,75.77 L318.82,76.64 L318.92,77.52 L319.03,78.39 L319.13,79.26 L319.23,80.14 L319.34,81.01 L319.44,81.88 L319.55,82.76 L319.65,83.63 L319.75,84.50 L319.86,85.38 L319.96,86.25 L320.06,87.13 L320.17,88.00 L320.27,88.87 L320.37,89.75 L320.47,90.62 L320.58,91.50 L320.68,92.37 L320.78,93.25 L320.88,94.12 L320.98,95.00 L321.09,95.87 L321.19,96.75 L321.29,97.62 L321.39,98.50 L321.50,99.37 L321.60,100.25 L321.70,101.12 L321.80,102.00 L321.90,102.87 L322.01,103.75 L322.11,104.62 L322.21,105.50 L322.32,106.37 L322.42,107.25 L322.52,108.12 L322.62,109.00 L322.73,109.87 L322.83,110.75 L322.94,111.62 L323.04,112.50 L323.14,113.37 L323.25,114.25 L323.35,115.12 L323.46,116.00 L323.56,116.87 L323.67,117.75 L323.77,118.62 L323.88,119.50 L323.98,120.37 L324.09,121.25 L324.20,122.12 L324.30,123.00 L324.41,123.87 L324.52,124.74 L324.63,125.62 L324.74,126.49 L324.85,127.37 L324.95,128.24 L325.06,129.12 L325.17,129.99 L325.28,130.86 L325.40,131.74 L325.51,132.61 L325.62,133.48 L325.73,134.36 L325.84,135.23 L325.96,136.10 L326.07,136.98 L326.19,137.85 L326.30,138.72 L326.42,139.60 L326.53,140.47 L326.65,141.34 L326.77,142.21 L326.88,143.09 L327.00,143.96 L327.12,144.83 L327.24,145.70 L327.36,146.57 L327.48,147.45 L327.60,148.32 L327.72,149.19 L327.85,150.06 L327.97,150.93 L328.09,151.80 L328.22,152.67 L328.34,153.54 L328.47,154.41 L328.60,155.28 L328.73,156.15 L328.85,157.02 L328.98,157.89 L329.11,158.76 L329.25,159.63 L329.38,160.50 L329.51,161.36 L329.64,162.23 L329.78,163.10 L329.91,163.97 L330.05,164.84 L330.19,165.70 L330.32,166.57 L330.46,167.44 L330.60,168.30 L330.74,169.17 L330.88,170.04 L331.03,170.90 L331.17,171.77 L331.32,172.63 L331.46,173.50 L331.61,174.36 L331.76,175.23 L331.91,176.10 L332.06,176.96 L332.21,177.83 L332.36,178.69 L332.51,179.55 L332.67,180.42 L332.83,181.28 L332.98,182.15 L333.14,183.01 L333.31,183.88 L333.47,184.74 L333.63,185.61 L333.80,186.47 L333.96,187.34 L334.13,188.20 L334.30,189.06 L334.47,189.93 L334.64,190.79 L334.82,191.66 L334.99,192.52 L335.17,193.39 L335.35,194.25 L335.53,195.12 L335.71,195.98 L335.90,196.85 L336.08,197.71 L336.27,198.58 L336.46,199.44 L336.65,200.31 L336.84,201.17 L337.04,202.04 L337.24,202.90 L337.44,203.77 L337.64,204.63 L337.85,205.49 L338.06,206.36 L338.27,207.22 L338.49,208.08 L338.71,208.93 L338.94,209.79 L339.17,210.64 L339.41,211.50 L339.65,212.35 L339.90,213.19 L340.15,214.04 L340.41,214.88 L340.68,215.72 L340.95,216.56 L341.24,217.39 L341.52,218.22 L341.82,219.04 L342.12,219.86 L342.44,220.68 L342.76,221.49 L343.08,222.30 L343.42,223.11 L343.77,223.91 L344.12,224.70 L344.49,225.49 L344.86,226.28 L345.24,227.06 L345.63,227.84 L346.03,228.61 L346.44,229.38 L346.86,230.14 L347.29,230.89 L347.73,231.64 L348.19,232.39 L348.65,233.13 L349.12,233.87 L349.60,234.59 L350.09,235.32 L350.59,236.04 L351.11,236.75 L351.63,237.45 L352.17,238.15 L352.72,238.85 L353.28,239.54 L353.85,240.22 L354.43,240.89 L355.03,241.56 L355.63,242.22 L356.25,242.87 L356.87,243.52 L357.51,244.15 L358.15,244.77 L358.81,245.39 L359.47,245.99 L360.15,246.59 L360.83,247.17 L361.52,247.73 L362.21,248.29 L362.92,248.83 L363.63,249.36 L364.35,249.88 L365.08,250.37 L365.81,250.86 L366.55,251.33 L367.30,251.79 L368.05,252.23 L368.81,252.66 L369.57,253.08 L370.34,253.48 L371.12,253.87 L371.90,254.25 L372.69,254.62 L373.48,254.98 L374.27,255.32 L375.08,255.65 L375.88,255.98 L376.69,256.29 L377.51,256.59 L378.32,256.88 L379.15,257.17 L379.97,257.44 L380.80,257.71 L381.64,257.96 L382.47,258.21 L383.31,258.45 L384.16,258.68 L385.00,258.91 L385.85,259.12 L386.71,259.33 L387.56,259.54 L388.42,259.73 L389.28,259.93 L390.14,260.11 L391.00,260.29 L391.86,260.47 L392.73,260.64 L393.60,260.80 L394.47,260.96 L395.34,261.12 L396.21,261.27 L397.08,261.42 L397.95,261.57 L398.82,261.71 L399.70,261.86 L400.57,262.00 L401.44,262.13 L402.31,262.27 L403.19,262.40 L404.06,262.53 L404.94,262.66 L405.81,262.79 L406.68,262.91 L407.56,263.03 L408.43,263.16 L409.31,263.27 L410.18,263.39 L411.05,263.51 L411.93,263.62 L412.80,263.73 L413.68,263.84 L414.55,263.94 L415.43,264.05 L416.30,264.15 L417.18,264.25 L418.05,264.35 L418.93,264.45 L419.80,264.55 L420.68,264.64 L421.56,264.73 L422.43,264.82 L423.31,264.91 L424.18,265.00 L425.06,265.08 L425.94,265.17 L426.81,265.25 L427.69,265.33 L428.56,265.41 L429.44,265.48 L430.32,265.56 L431.19,265.63 L432.07,265.70 L432.95,265.77 L433.83,265.84 L434.70,265.91 L435.58,265.97 L436.46,266.04 L437.33,266.10 L438.21,266.16 L439.09,266.22 L439.97,266.28 L440.85,266.33 L441.72,266.39 L442.60,266.44 L443.48,266.50 L444.36,266.55 L445.23,266.60 L446.11,266.64 L446.99,266.69 L447.87,266.73 L448.75,266.78 L449.63,266.82 L450.51,266.86 L451.38,266.90 L452.26,266.94 L453.14,266.98 L454.02,267.01 L454.90,267.05 L455.78,267.08 L456.66,267.12 L457.54,267.15 L458.42,267.18 L459.29,267.21 L460.17,267.23 L461.05,267.26 L461.93,267.28 L462.81,267.31 L463.69,267.33 L464.57,267.35 L465.45,267.37 L466.33,267.39 L467.21,267.41 L468.09,267.43 L468.97,267.44 L469.85,267.46 L470.73,267.47 L471.61,267.48 L472.49,267.50 L473.37,267.51 L474.25,267.51 L475.13,267.52 L476.01,267.53 L476.89,267.53 L477.77,267.54 L478.65,267.54 L479.53,267.54 L480.41,267.55 L481.29,267.54 L482.17,267.54 L483.05,267.54 L483.93,267.54 L484.81,267.53 L485.69,267.53 L486.57,267.52 L487.45,267.51 L488.33,267.50 L489.21,267.49 L490.09,267.48 L490.97,267.47 L491.85,267.46 L492.73,267.44 L493.61,267.43 L494.49,267.41 L495.37,267.39 L496.25,267.37 L497.13,267.35 L498.01,267.33 L498.89,267.31 L499.77,267.29 L500.65,267.26 L501.53,267.24 L502.41,267.21 L503.29,267.19 L504.17,267.16 L505.05,267.13 L505.93,267.10 L506.81,267.07 L507.69,267.04 L508.57,267.00 L509.45,266.97 L510.33,266.93 L511.21,266.90 L512.09,266.86 L512.96,266.82 L513.84,266.78 L514.72,266.74 L515.60,266.70 L516.48,266.66 L517.36,266.61 L518.24,266.57 L519.12,266.52 L520.00,266.48" stroke="#111" stroke-width="1.45" fill="none" stroke-linejoin="round"/>
<line x1="360.6" y1="40.8" x2="376" y2="40.8" stroke="#222" stroke-width="1.5"/>
<line x1="360.6" y1="65.5" x2="376" y2="65.5" stroke="#1414ee" stroke-width="1.4"/>
<text x="60.50" y="276.35" text-anchor="end" textLength="30.73" lengthAdjust="spacingAndGlyphs">0.00</text>
<text x="60.50" y="250.48" text-anchor="end" textLength="30.73" lengthAdjust="spacingAndGlyphs">0.02</text>
<text x="60.50" y="224.61" text-anchor="end" textLength="30.73" lengthAdjust="spacingAndGlyphs">0.04</text>
<text x="60.50" y="198.74" text-anchor="end" textLength="30.73" lengthAdjust="spacingAndGlyphs">0.06</text>
<text x="60.50" y="172.87" text-anchor="end" textLength="30.73" lengthAdjust="spacingAndGlyphs">0.08</text>
<text x="60.50" y="147.00" text-anchor="end" textLength="30.73" lengthAdjust="spacingAndGlyphs">0.10</text>
<text x="60.50" y="121.14" text-anchor="end" textLength="30.73" lengthAdjust="spacingAndGlyphs">0.12</text>
<text x="60.50" y="95.27" text-anchor="end" textLength="30.73" lengthAdjust="spacingAndGlyphs">0.14</text>
<text x="60.50" y="69.40" text-anchor="end" textLength="30.73" lengthAdjust="spacingAndGlyphs">0.16</text>
<text x="60.50" y="43.53" text-anchor="end" textLength="30.73" lengthAdjust="spacingAndGlyphs">0.18</text>
<text x="60.50" y="17.66" text-anchor="end" textLength="30.73" lengthAdjust="spacingAndGlyphs">0.20</text>
<text x="76.70" y="298.80" text-anchor="middle" textLength="48.30" lengthAdjust="spacingAndGlyphs">1645.3</text>
<text x="165.36" y="298.80" text-anchor="middle" textLength="48.30" lengthAdjust="spacingAndGlyphs">1645.4</text>
<text x="254.02" y="298.80" text-anchor="middle" textLength="48.30" lengthAdjust="spacingAndGlyphs">1645.5</text>
<text x="342.68" y="298.80" text-anchor="middle" textLength="48.30" lengthAdjust="spacingAndGlyphs">1645.6</text>
<text x="431.34" y="298.80" text-anchor="middle" textLength="48.30" lengthAdjust="spacingAndGlyphs">1645.7</text>
<text x="520.00" y="298.80" text-anchor="middle" textLength="48.30" lengthAdjust="spacingAndGlyphs">1645.8</text>
<text x="298.40" y="323.20" text-anchor="middle" font-weight="bold" style="font-size:16.9px" textLength="124.38" lengthAdjust="spacingAndGlyphs">Wavelength (nm)</text>
<text transform="translate(22.10,141.30) rotate(-90)" text-anchor="middle" font-weight="bold" style="font-size:16.9px" textLength="119.77" lengthAdjust="spacingAndGlyphs">Attenuation (dB)</text>
<text transform="translate(291.30,210.40) rotate(-90)" style="stroke-width:0.1px" textLength="35.55" lengthAdjust="spacingAndGlyphs">LD in</text>
<text transform="translate(425.20,210.30) rotate(-90)" style="stroke-width:0.1px" textLength="48.12" lengthAdjust="spacingAndGlyphs">LD out</text>
<text x="376.60" y="45.60" textLength="21.17" lengthAdjust="spacingAndGlyphs">1%</text>
<text x="407.00" y="45.60" textLength="20.05" lengthAdjust="spacingAndGlyphs">CH</text>
<text x="427.50" y="49.60" style="font-size:12px" textLength="6.09" lengthAdjust="spacingAndGlyphs">4</text>
<text x="377.10" y="70.50" textLength="32.50" lengthAdjust="spacingAndGlyphs">Pure</text>
<text x="417.00" y="70.50" textLength="10.80" lengthAdjust="spacingAndGlyphs">H</text>
<text x="427.80" y="74.50" style="font-size:12px" textLength="6.09" lengthAdjust="spacingAndGlyphs">2</text>
<text x="433.50" y="70.50" textLength="11.48" lengthAdjust="spacingAndGlyphs">O</text>
<text x="451.00" y="70.50" textLength="5.27" lengthAdjust="spacingAndGlyphs">(</text>
<text x="459.50" y="70.50" textLength="7.52" lengthAdjust="spacingAndGlyphs">x</text>
<text x="471.30" y="70.50" textLength="28.76" lengthAdjust="spacingAndGlyphs">100</text>
<text x="500.60" y="70.50" textLength="5.27" lengthAdjust="spacingAndGlyphs">)</text>
</svg>
</body></html>
